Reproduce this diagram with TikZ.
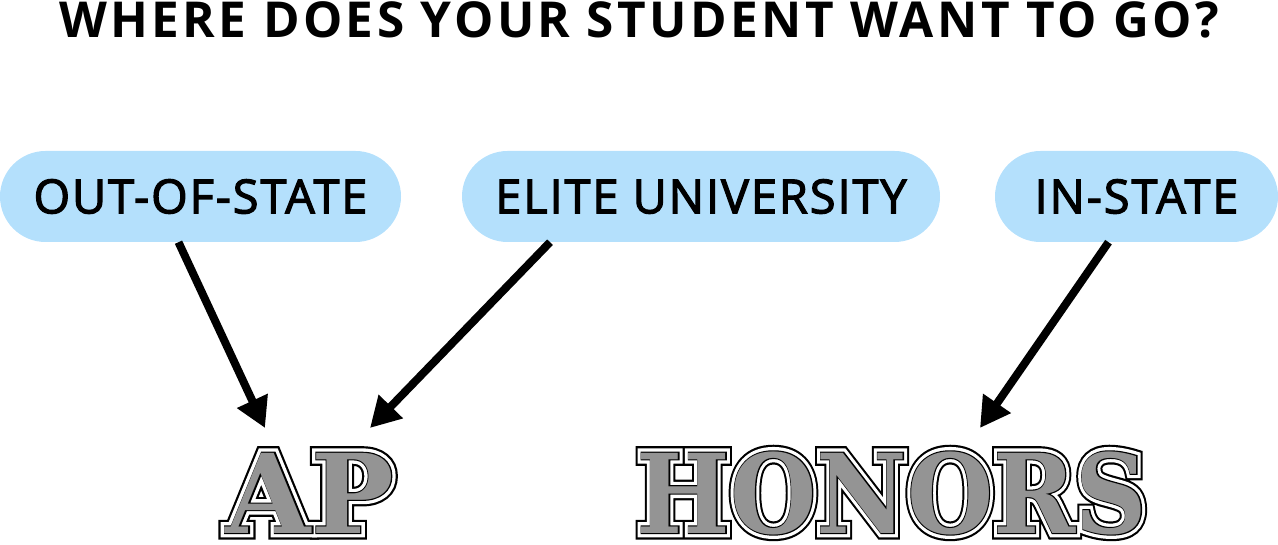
\documentclass[tikz,border=0pt]{standalone}
\usepackage{fontspec}
\setmainfont{Open Sans}
\newfontfamily\pillfont{Open Sans}[FakeBold=2.5, LetterSpace=4]
\newfontfamily\varsityOut{DejaVu Serif Bold}[FakeBold=12]
\newfontfamily\varsityBand{DejaVu Serif Bold}[FakeBold=8]
\newfontfamily\varsityLine{DejaVu Serif Bold}[FakeBold=2]
\newfontfamily\varsityCore{DejaVu Serif Bold}
\usetikzlibrary{arrows.meta}
\definecolor{pillblue}{RGB}{180,224,252}

\tikzset{
  pill/.style={fill=pillblue, rounded corners=45.5pt, minimum height=91pt,
               inner sep=0pt, font=\fontsize{47}{47}\pillfont},
  arr/.style={draw=black, line width=8pt, -{Triangle[length=30pt,width=32pt]}},
  varsity/.style={inner sep=0pt, anchor=base}
}

\begin{document}
\begin{tikzpicture}[x=1pt,y=-1pt]
        \useasboundingbox (0,0) rectangle (1278,545);

        \node (title) at (639,20) {\fontsize{49.5}{49.5}\selectfont\bfseries\addfontfeatures{LetterSpace=7}WHERE DOES YOUR STUDENT WANT TO GO?};

        \begin{scope}
            \node[pill, minimum width=401pt] (oos) at (200.5,196.5) {OUT-OF-STATE};
            \node[pill, minimum width=478pt] (elite) at (701,196.5) {ELITE UNIVERSITY};
            \node[pill, minimum width=283pt] (ins) at (1136.5,196.5) {IN-STATE};
        \end{scope}

        % the hand drawn letters: outline, white band, line, filled core
        \begin{scope}[every node/.style={varsity}]
            \node[font=\fontsize{110}{110}\varsityOut] (apA) at (310,533) {AP};
            \node[font=\fontsize{110}{110}\varsityBand, text=white] (apB) at (310,533) {AP};
            \node[font=\fontsize{110}{110}\varsityLine] (apC) at (310,533) {AP};
            \node[font=\fontsize{110}{110}\varsityCore, text=black!42] (ap) at (310,533) {AP};

            \node[font=\fontsize{110}{110}\varsityOut, xscale=0.9] (honA) at (892,533) {HONORS};
            \node[font=\fontsize{110}{110}\varsityBand, xscale=0.9, text=white] (honB) at (892,533) {HONORS};
            \node[font=\fontsize{110}{110}\varsityLine, xscale=0.9] (honC) at (892,533) {HONORS};
            \node[font=\fontsize{110}{110}\varsityCore, xscale=0.9, text=black!42] (honors) at (892,533) {HONORS};
        \end{scope}

        \coordinate (apL) at (265,428);
        \coordinate (apR) at (370,428);
        \coordinate (honL) at (980,428);

        \begin{scope}
            \draw[arr] ([xshift=-22pt]oos.south) -- (apL);
            \draw[arr] ([xshift=-151pt]elite.south) -- (apR);
            \draw[arr] ([xshift=-28pt]ins.south) -- (honL);
        \end{scope}
\end{tikzpicture}
\end{document}
